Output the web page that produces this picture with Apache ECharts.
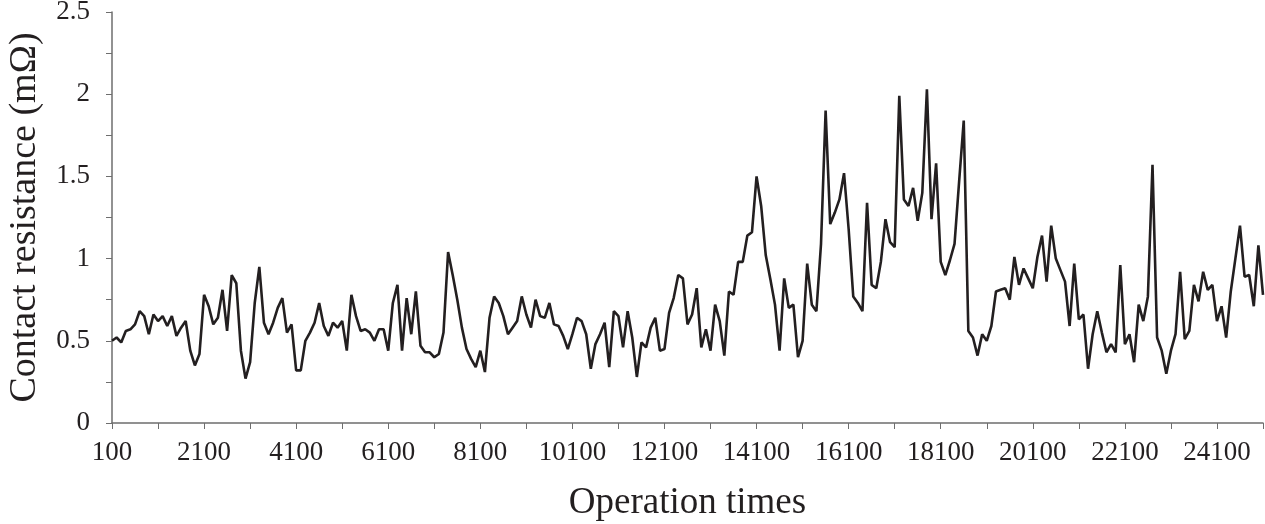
<!DOCTYPE html>
<html>
<head>
<meta charset="utf-8">
<script src="https://cdn.jsdelivr.net/npm/echarts@6/dist/echarts.min.js"></script>
<style>
html, body { margin: 0; padding: 0; background: #fff; }
#main { width: 1265px; height: 524px; }
</style>
</head>
<body>
<div id="main"></div>
<script>
// operation counts, one point every 100 operations
var startTimes = 100;
var stepTimes = 100;
var resistance = [
    0.5,0.52,0.49,0.56,0.57,0.6,0.68,0.65,0.54,0.66,0.62,0.65,0.59,0.65,0.53,0.58,0.62,0.44,0.35,0.42,
    0.78,0.71,0.6,0.64,0.81,0.56,0.9,0.85,0.44,0.27,0.37,0.73,0.95,0.61,0.54,0.61,0.7,0.76,0.55,0.6,
    0.32,0.32,0.5,0.55,0.61,0.73,0.59,0.53,0.61,0.58,0.62,0.44,0.78,0.65,0.56,0.57,0.55,0.5,0.57,0.57,
    0.44,0.73,0.84,0.44,0.76,0.54,0.8,0.47,0.43,0.43,0.4,0.42,0.55,1.04,0.9,0.75,0.58,0.45,0.39,0.34,
    0.44,0.31,
    0.64,0.77,0.73,0.65,0.54,0.58,0.62,0.77,0.66,0.58,0.75,0.65,0.64,0.73,0.6,0.59,0.53,0.45,0.54,0.64,
    0.62,0.54,0.33,0.48,0.54,0.61,0.34,0.68,0.65,0.46,0.68,0.52,0.28,0.49,0.46,0.58,0.64,0.44,0.45,0.67,
    0.76,0.9,0.88,
    0.6,0.66,0.82,0.46,0.57,0.44,0.72,0.62,0.41,0.8,0.78,0.98,0.98,1.14,1.16,1.5,1.32,1.02,0.875,0.72,
    0.44,0.88,0.7,0.72,0.4,0.5,0.97,0.72,0.68,1.09,1.9,1.21,1.28,1.36,1.52,1.18,0.77,0.73,0.68,1.34,
    0.84,0.82,
    0.98,1.24,1.1,1.07,1.99,1.36,1.32,1.43,1.23,1.4,2.03,1.24,1.58,0.98,0.9,0.99,1.09,1.47,1.84,0.56,
    0.52,0.41,0.54,0.5,0.59,0.8,0.81,0.82,0.75,1.01,0.84,0.94,0.88,0.82,1.01,1.14,0.86,1.2,1.0,0.93,
    0.86,0.59,0.97,
    0.63,0.66,0.33,0.54,0.68,0.55,0.43,0.48,0.43,0.96,0.48,0.54,0.37,0.72,0.62,0.77,1.57,0.52,0.44,0.3,
    0.44,0.54,0.92,0.51,0.56,0.84,0.74,0.92,0.81,0.84,0.62,0.71,0.52,0.8,1.0,1.2,0.89,0.9,0.71,1.08,
    0.78
];
var opTimes = [];
for (var i = 0; i < resistance.length; i++) {
    opTimes.push(String(startTimes + i * stepTimes));
}
var yTickLabels = ['0', '0.5', '1', '1.5', '2', '2.5'];

var myChart = echarts.init(document.getElementById('main'));
var font = 'Liberation Serif';
var axisColor = '#6e6e6e';
var option = {
    animation: false,
    grid: { left: 112, right: 2, top: 12, bottom: 101, outerBoundsMode: 'none' },
    xAxis: {
        type: 'category',
        data: opTimes,
        boundaryGap: false,
        name: 'Operation times',
        nameLocation: 'middle',
        nameGap: 62,
        nameTextStyle: { fontFamily: font, fontSize: 37, color: '#231f20' },
        axisLine: { lineStyle: { color: axisColor, width: 1.5 } },
        axisTick: { interval: 9, length: 6, lineStyle: { color: axisColor } },
        axisLabel: { interval: 19, margin: 16, fontFamily: font, fontSize: 27, color: '#231f20' }
    },
    yAxis: {
        type: 'value',
        min: 0,
        max: 2.5,
        interval: 0.25,
        name: 'Contact resistance (mΩ)',
        nameLocation: 'middle',
        nameGap: 68,
        nameTextStyle: { fontFamily: font, fontSize: 38, color: '#231f20' },
        axisLine: { show: true, lineStyle: { color: axisColor, width: 1.5 } },
        axisTick: { show: true, length: 6, lineStyle: { color: axisColor } },
        splitLine: { show: false },
        axisLabel: {
            margin: 22,
            fontFamily: font,
            fontSize: 27,
            color: '#231f20',
            formatter: function (v) {
                var k = Math.round(v * 2);
                return Math.abs(v * 2 - k) < 1e-6 ? yTickLabels[k] : '';
            }
        }
    },
    series: [
        {
            type: 'line',
            data: resistance,
            showSymbol: false,
            lineStyle: { color: '#231f20', width: 2.6 }
        }
    ]
};
myChart.setOption(option);
</script>
</body>
</html>
